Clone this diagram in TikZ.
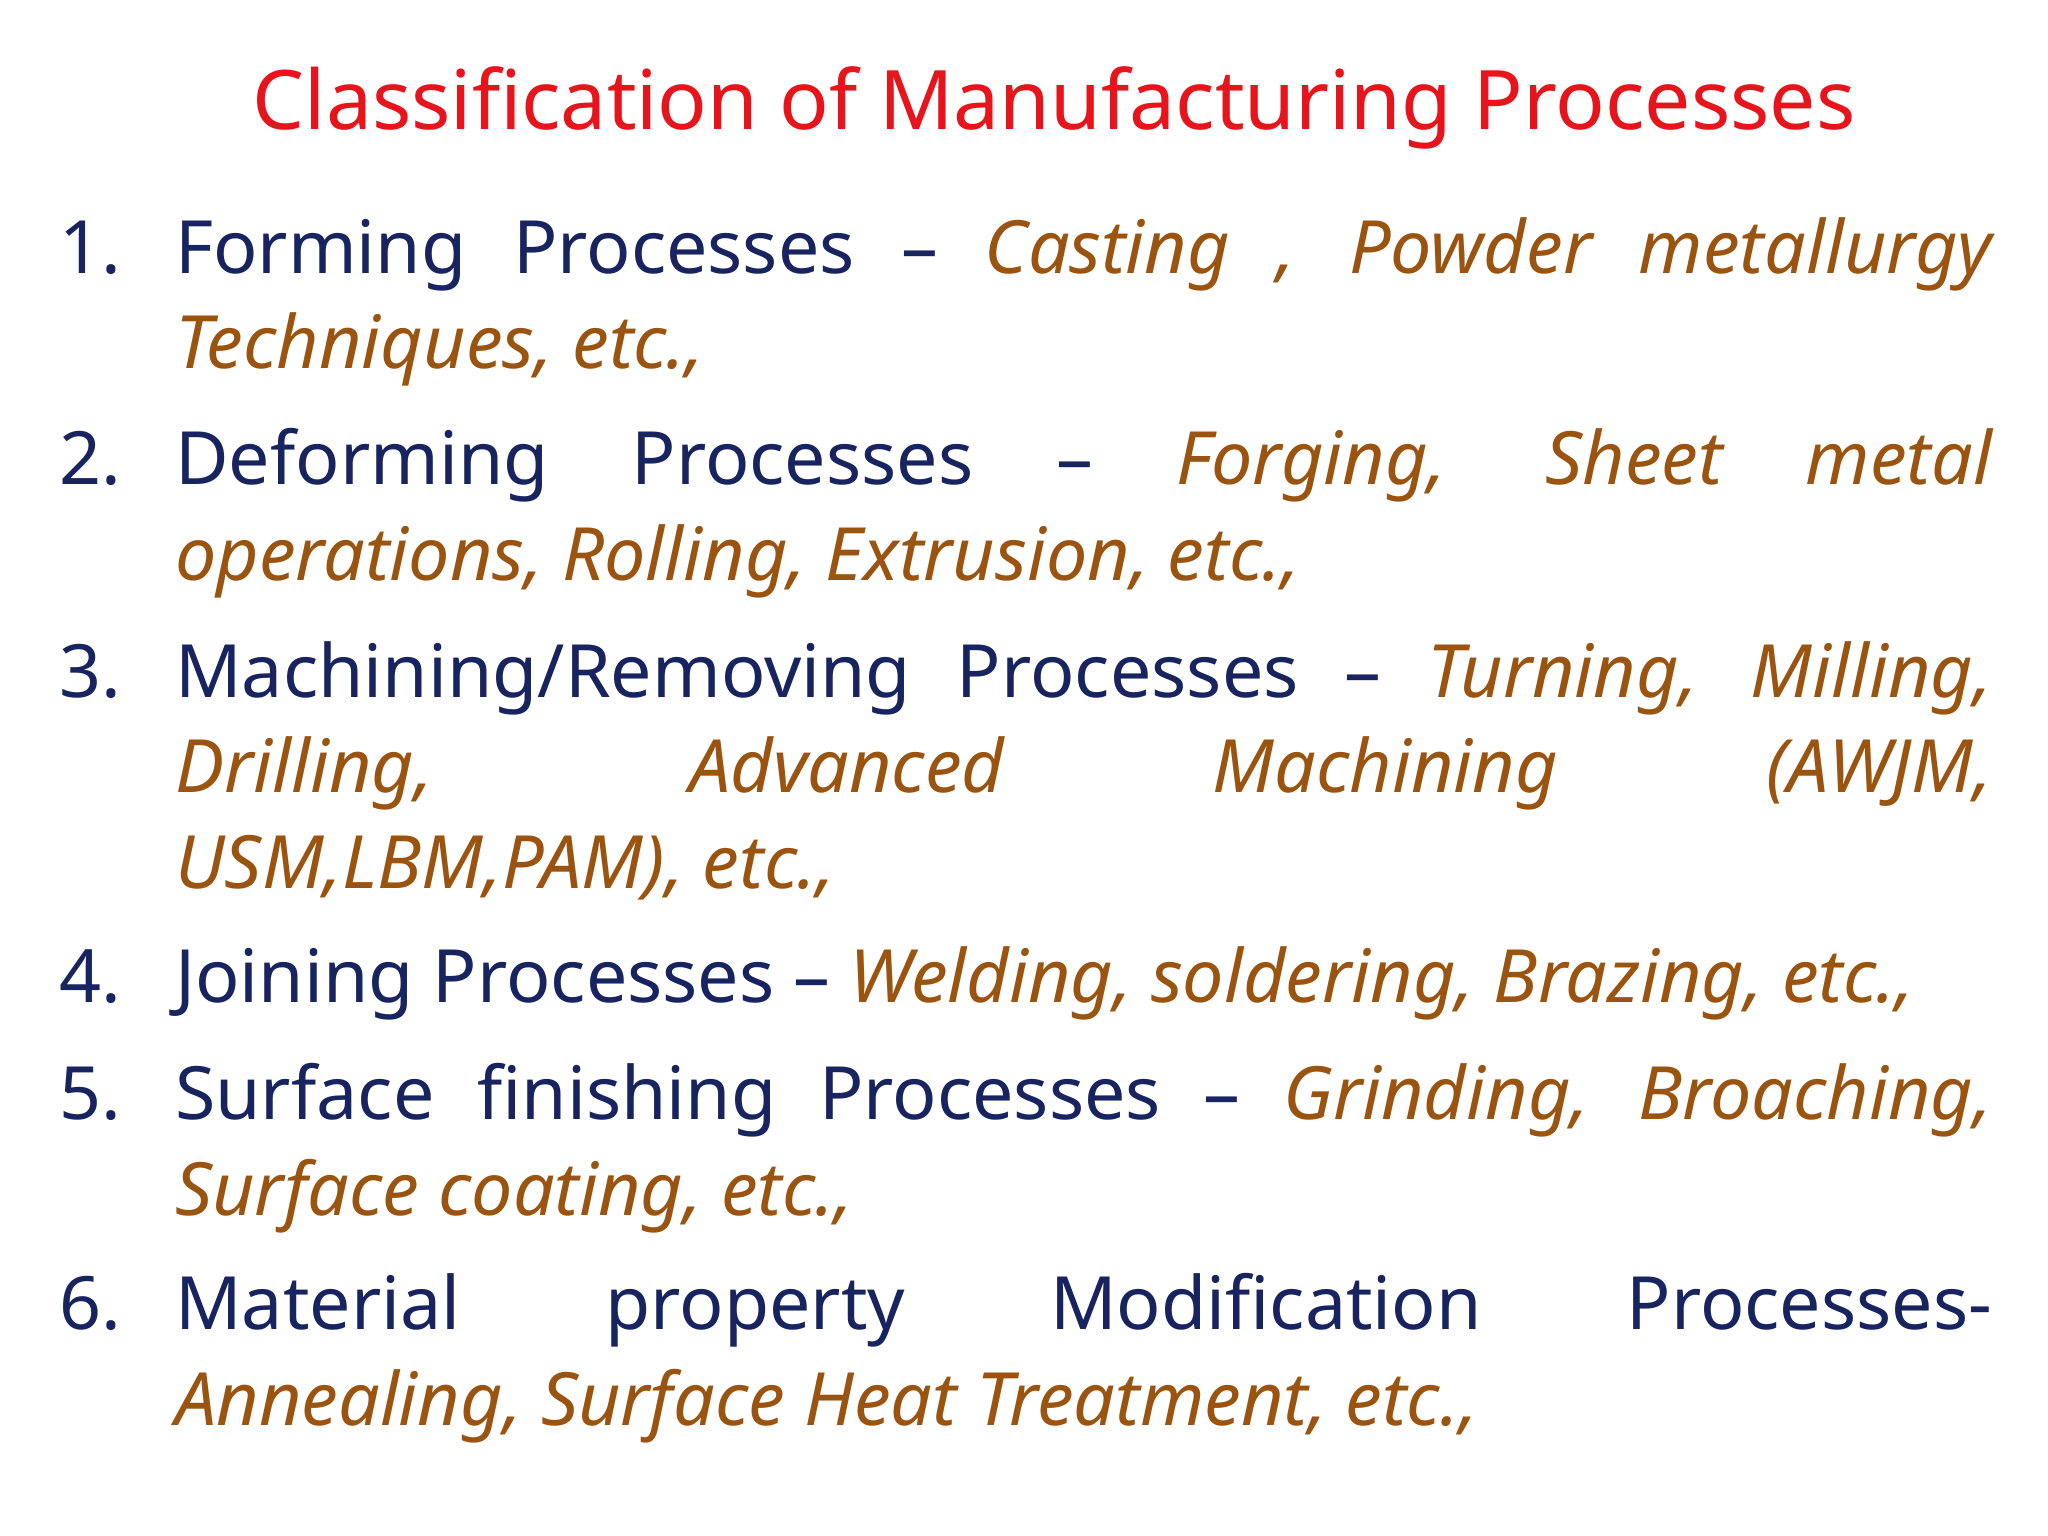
\documentclass[tikz,border=0pt]{standalone}
\usepackage{fontspec}
\setmainfont{Noto Sans}
\definecolor{navy}{HTML}{18245F}
\definecolor{brn}{HTML}{9A5410}
\definecolor{ttl}{HTML}{E8141B}
\begin{document}
\begin{tikzpicture}[x=0.5pt,y=-0.5pt,
  num/.style={anchor=base west,inner sep=0pt,text=navy,font=\fontsize{28}{36.5}\selectfont},
  itm/.style={anchor=base west,inner sep=0pt,text=navy,font=\fontsize{28}{36.5}\selectfont}]
\useasboundingbox[fill=white] (0,0) rectangle (1560,1170);
\newcommand{\itx}[1]{\parbox[t]{692pt}{\fontsize{28}{36.5}\selectfont\rightskip=0pt\parfillskip=0pt plus 1fil\emergencystretch=3em #1}}
\newcommand{\br}[1]{{\color{brn}\itshape #1}}
\node[anchor=base,text=ttl,font=\fontsize{31.3}{36}\selectfont] (title) at (803,99) {Classification of Manufacturing Processes};
\node[num] (n1) at (45,208) {1.};
\node[itm] (t1) at (133,208) {\itx{Forming Processes -- \br{Casting , Powder metallurgy}\linebreak \br{Techniques, etc.,}}};
\node[num] (n2) at (45,369) {2.};
\node[itm] (t2) at (133,369) {\itx{Deforming Processes -- \br{Forging, Sheet metal}\linebreak \br{operations, Rolling, Extrusion, etc.,}}};
\node[num] (n3) at (45,531) {3.};
\node[itm] (t3) at (133,531) {\itx{Machining/Removing Processes -- \br{Turning, Milling,}\linebreak \br{Drilling, Advanced Machining (AWJM,}\linebreak \br{USM,LBM,PAM), etc.,}}};
\node[num] (n4) at (45,764) {4.};
\node[itm] (t4) at (133,764) {\itx{Joining Processes -- \br{Welding, soldering, Brazing, etc.,}}};
\node[num] (n5) at (45,853) {5.};
\node[itm] (t5) at (133,853) {\itx{Surface finishing Processes -- \br{Grinding, Broaching,}\linebreak \br{Surface coating, etc.,}}};
\node[num] (n6) at (45,1013) {6.};
\node[itm] (t6) at (133,1013) {\itx{Material property Modification Processes-\linebreak \br{Annealing, Surface Heat Treatment, etc.,}}};
\end{tikzpicture}
\end{document}
